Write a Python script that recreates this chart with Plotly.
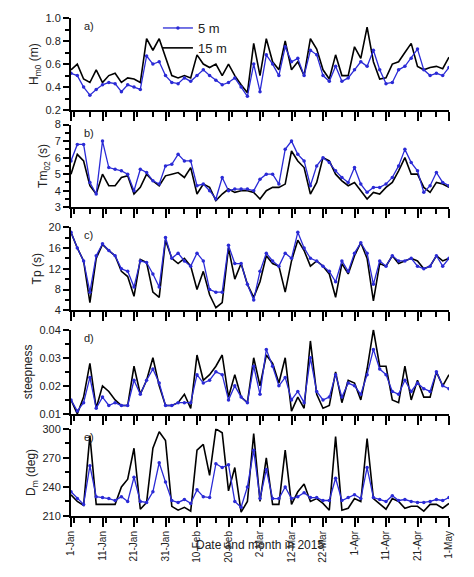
import pandas as pd
import plotly.graph_objects as go

# sampled every 2 days, 1 Jan - 1 May 2015
dates = pd.date_range("2015-01-01", periods=61, freq="2D")

hm0_15 = [0.55, 0.6, 0.47, 0.44, 0.55, 0.44, 0.5, 0.52, 0.44, 0.48,
          0.47, 0.44, 0.82, 0.72, 0.82, 0.65, 0.5, 0.48, 0.5, 0.48,
          0.68, 0.6, 0.57, 0.6, 0.5, 0.6, 0.5, 0.42, 0.35, 0.78,
          0.5, 0.82, 0.62, 0.55, 0.8, 0.55, 0.62, 0.5, 0.82, 0.73,
          0.55, 0.47, 0.68, 0.5, 0.5, 0.75, 0.65, 0.92, 0.62, 0.47,
          0.48, 0.6, 0.62, 0.7, 0.78, 0.58, 0.55, 0.57, 0.58, 0.56, 0.66]
hm0_5 = [0.52, 0.5, 0.4, 0.33, 0.38, 0.42, 0.44, 0.43, 0.36, 0.42,
         0.4, 0.38, 0.67, 0.6, 0.62, 0.5, 0.44, 0.43, 0.48, 0.45,
         0.5, 0.55, 0.5, 0.46, 0.42, 0.44, 0.48, 0.4, 0.32, 0.6,
         0.36, 0.68, 0.6, 0.5, 0.75, 0.62, 0.65, 0.5, 0.72, 0.68,
         0.5, 0.45, 0.58, 0.45, 0.48, 0.55, 0.62, 0.58, 0.72, 0.55,
         0.43, 0.44, 0.55, 0.58, 0.65, 0.73, 0.55, 0.5, 0.52, 0.5, 0.57]

tm02_15 = [5.0, 6.2, 5.8, 4.3, 3.8, 5.0, 4.3, 4.3, 4.8, 4.9,
           3.8, 4.2, 5.0, 4.6, 4.3, 4.9, 5.0, 5.1, 4.8, 5.4,
           3.8, 4.4, 4.2, 3.4, 3.8, 4.1, 3.9, 4.0, 4.0, 3.9,
           3.5, 4.0, 4.2, 4.2, 4.4, 6.4, 5.8, 5.4, 3.8, 4.5,
           6.0, 5.8, 5.0, 4.6, 4.3, 4.5, 4.0, 3.5, 3.9, 3.8,
           4.2, 4.5, 5.2, 6.0, 5.0, 5.0, 4.2, 3.9, 4.5, 4.4, 4.2]
tm02_5 = [5.8, 6.8, 6.8, 4.5, 3.8, 7.0, 5.4, 5.3, 5.2, 5.0,
          4.0, 5.3, 5.1, 4.6, 4.4, 5.5, 5.6, 6.2, 5.8, 5.8,
          4.3, 4.4, 4.0, 3.5, 4.8, 4.0, 4.1, 4.1, 4.1, 4.0,
          4.7, 5.0, 5.0, 4.4, 6.5, 7.0, 6.2, 5.8, 4.3, 5.5,
          6.0, 5.7, 5.2, 4.8, 4.5, 5.4, 4.4, 3.9, 4.2, 4.2,
          4.4, 4.8, 5.5, 6.5, 5.7, 5.2, 3.9, 4.3, 5.1, 4.5, 4.3]

tp_15 = [19, 16, 13.5, 5.5, 14, 16.7, 15.5, 14.5, 11.5, 10.5,
         6.7, 13.8, 13.2, 7.5, 6.5, 17.5, 14, 13, 14, 12.5,
         8, 11.5, 7, 4.5, 5.5, 16, 10, 13, 9, 6.5,
         9.5, 14.5, 13, 12.5, 7.5, 13.5, 17.5, 15.5, 12.5, 13.5,
         12.5, 11, 6.5, 13, 11, 14.5, 17, 14, 5.8, 13,
         12.5, 14.5, 13, 13.5, 14, 13.5, 12, 12.5, 14.5, 13.5, 14]
tp_5 = [19, 16, 13.5, 7.5, 14.5, 16.8, 15.5, 14.5, 12, 11.5,
        8.5, 13.5, 13.2, 11, 8.5, 18, 14, 15, 13.5, 12.5,
        15, 13.5, 8, 7.5, 7.5, 16.5, 13, 13, 9, 6,
        11.5, 15, 13.5, 12.5, 15, 14, 19, 16, 14, 13.5,
        12.5, 11.5, 9.5, 13.5, 11.5, 15, 17, 15, 9, 13.5,
        12.5, 14.5, 13.5, 13.5, 14, 12.5, 12, 12.5, 14.5, 12.5, 14]

steep_15 = [0.015, 0.010, 0.016, 0.028, 0.012, 0.020, 0.018, 0.015, 0.013, 0.013,
            0.027, 0.017, 0.022, 0.030, 0.020, 0.013, 0.013, 0.014, 0.017, 0.012,
            0.031, 0.022, 0.024, 0.027, 0.031, 0.016, 0.024, 0.016, 0.014, 0.030,
            0.020, 0.031, 0.028, 0.021, 0.030, 0.011, 0.016, 0.012, 0.036, 0.017,
            0.012, 0.013, 0.025, 0.014, 0.022, 0.021, 0.015, 0.026, 0.040, 0.027,
            0.027, 0.015, 0.014, 0.027, 0.015, 0.022, 0.016, 0.016, 0.025, 0.020, 0.024]
steep_5 = [0.015, 0.011, 0.014, 0.023, 0.012, 0.016, 0.013, 0.014, 0.013, 0.013,
           0.022, 0.017, 0.022, 0.026, 0.021, 0.013, 0.013, 0.014, 0.014, 0.014,
           0.024, 0.021, 0.022, 0.025, 0.024, 0.015, 0.020, 0.016, 0.014, 0.027,
           0.017, 0.033, 0.027, 0.020, 0.023, 0.015, 0.018, 0.014, 0.030, 0.018,
           0.015, 0.016, 0.024, 0.016, 0.021, 0.020, 0.017, 0.024, 0.033, 0.026,
           0.024, 0.018, 0.017, 0.022, 0.018, 0.021, 0.019, 0.018, 0.025, 0.020, 0.019]

dm_15 = [232, 225, 221, 293, 222, 222, 222, 222, 240, 248,
         280, 217, 224, 280, 297, 288, 220, 216, 219, 215,
         278, 284, 252, 300, 296, 236, 260, 214, 225, 295,
         225, 270, 222, 222, 278, 222, 235, 243, 225, 228,
         223, 216, 292, 216, 218, 228, 225, 290, 228, 222,
         217, 228, 225, 218, 220, 220, 215, 222, 222, 218, 223]
dm_5 = [235, 228, 222, 262, 230, 229, 228, 226, 230, 225,
        250, 225, 224, 235, 265, 245, 226, 224, 227, 223,
        237, 230, 229, 264, 260, 263, 225, 219, 240, 278,
        228, 258, 228, 228, 240, 228, 230, 234, 229, 229,
        226, 226, 249, 226, 229, 232, 228, 260, 229, 227,
        225, 231, 226, 227, 225, 224, 224, 225, 227, 226, 229]

panels = [
    ("a)", "H<sub>m0</sub> (m)", hm0_5, hm0_15, [0.2, 1.0], 0.2, 0.1, ".1f"),
    ("b)", "Tm<sub>02</sub> (s)", tm02_5, tm02_15, [3, 8], 1, 0.5, "d"),
    ("c)", "Tp (s)", tp_5, tp_15, [4, 20], 4, 2, "d"),
    ("d)", "steepness", steep_5, steep_15, [0.01, 0.04], 0.01, 0.005, ".2f"),
    ("e)", "D<sub>m</sub> (deg)", dm_5, dm_15, [210, 300], 30, 15, "d"),
]
domains = [[0.815, 1.0], [0.62, 0.786], [0.413, 0.58], [0.205, 0.374], [0.0, 0.175]]

BLUE = "#2a2ad6"
font = dict(family="Liberation Sans, Arial, sans-serif", size=11, color="#222")
fig = go.Figure()
layout = {}
for i, (lab, title, s5, s15, rng, dt, mdt, fmt) in enumerate(panels):
    n = "" if i == 0 else str(i + 1)
    fig.add_trace(go.Scatter(x=dates, y=s15, mode="lines", name="15 m",
                             line=dict(color="black", width=1.6),
                             xaxis="x" + n, yaxis="y" + n, showlegend=(i == 0)))
    fig.add_trace(go.Scatter(x=dates, y=s5, mode="lines+markers", name="5 m",
                             line=dict(color=BLUE, width=1.3),
                             marker=dict(size=3.5, color=BLUE),
                             xaxis="x" + n, yaxis="y" + n, showlegend=(i == 0)))
    last = i == 4
    layout["xaxis" + n] = dict(
        domain=[0, 1], anchor="y" + n, type="date",
        range=["2015-01-01", "2015-05-01"], tick0="2015-01-01", dtick=864000000,
        tickformat="%-d-%b", showticklabels=last, tickangle=-90, tickfont=dict(size=10),
        ticks="outside", ticklen=9, tickwidth=2, tickcolor="black",
        minor=dict(dtick=432000000, ticks="outside", ticklen=5, tickwidth=1.5, tickcolor="black"),
        showline=True, linecolor="black", linewidth=2, showgrid=False, zeroline=False,
    )
    layout["yaxis" + n] = dict(
        domain=domains[i], anchor="x" + n, range=rng, dtick=dt, tick0=rng[0],
        tickformat=fmt, ticks="outside", ticklen=6, tickwidth=2, tickcolor="black",
        minor=dict(dtick=mdt, ticks="outside", ticklen=4, tickwidth=1.5, tickcolor="black"),
        showline=True, linecolor="black", linewidth=2, showgrid=False, zeroline=False,
        title=dict(text=title, font=dict(size=12), standoff=4),
    )
    fig.add_annotation(text=lab, xref="x" + n + " domain", yref="y" + n + " domain",
                       x=0.03, y=1.0, xanchor="left", yanchor="top", showarrow=False,
                       font=dict(size=11))

fig.add_annotation(text="Date and month in 2015", xref="paper", yref="paper",
                   x=0.5, y=-0.058, xanchor="center", yanchor="middle",
                   showarrow=False, font=dict(size=12))

fig.update_layout(
    **layout,
    width=474, height=577, template="simple_white", font=font,
    margin=dict(l=63, r=33, t=5, b=69),
    legend=dict(x=0.23, y=1.01, xanchor="left", yanchor="top", traceorder="reversed",
                bgcolor="rgba(0,0,0,0)", font=dict(size=13), tracegroupgap=0,
                itemwidth=30),
)
fig.write_html("out.html")
